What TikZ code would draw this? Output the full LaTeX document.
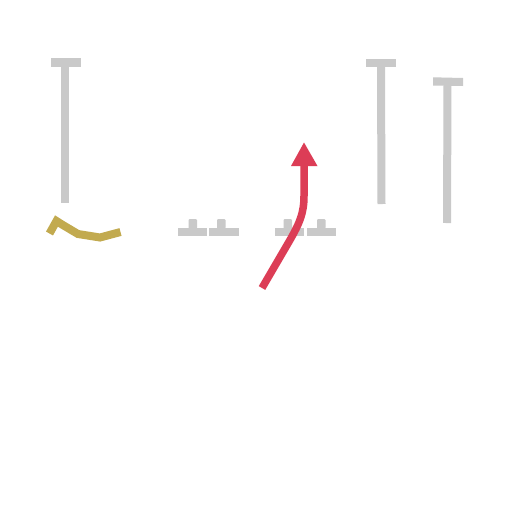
\documentclass[tikz,border=0pt]{standalone}
\usetikzlibrary{arrows.meta}
\definecolor{pole}{HTML}{C9C9C9}
\definecolor{arrowred}{HTML}{DC3D56}
\definecolor{gold}{HTML}{C2AA4F}
\tikzset{
  polebar/.style={fill=pole,draw=none},
  polestem/.style={draw=pole,line width=8pt},
  stub/.style={fill=pole,draw=none,rounded corners=1pt},
}
\begin{document}
\begin{tikzpicture}[x=1pt,y=-1pt]
\useasboundingbox[fill=white] (0,0) rectangle (512,512);
% left T
\fill[polebar] (51,58) rectangle (81,66.5);
\draw[polestem] (65,66) -- (65,203);
% right T's
\fill[polebar] (366,59) rectangle (396,66.5);
\draw[polestem] (381,66) -- (381.5,204);
\fill[polebar] (433,77.3) -- (463,78) -- (463,86) -- (433,85.5) -- cycle;
\draw[polestem] (447.5,85) -- (447,223);
% small inverted T's
\foreach \bx/\sx in {177.5/188.5, 209/217, 274.5/283.5, 306.5/317}{
  \fill[polebar] (\bx,227.5) rectangle ++(29.5,8.5);
  \fill[stub] (\sx,219) rectangle ++(8.5,9.5);
}
% gold stroke
\draw[gold,line width=8pt,line join=miter] (49.5,233.5) -- (56.5,221) -- (62,224.5) -- (78,234) -- (100,237.5) -- (120.5,232);
% red arrow
\draw[arrowred,line width=7.5pt] (262,288) -- (290,240) .. controls (299,224) and (304,214) .. (304,196) -- (304,164);
\fill[arrowred] (304,142.5) -- (317.5,166) -- (291,166) -- cycle;
\end{tikzpicture}
\end{document}
